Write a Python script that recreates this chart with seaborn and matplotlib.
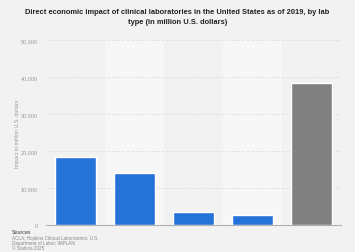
import matplotlib
matplotlib.use("Agg")
import matplotlib.pyplot as plt
import seaborn as sns
import pandas as pd

categories = ["Independent labs", "Hospital labs", "Physician office labs", "Other labs", "Total"]
values = [18400, 14100, 3500, 2800, 38500]
bar_colors = ["#2572d9", "#2572d9", "#2572d9", "#2572d9", "#808080"]
y_ticks = [0, 10000, 20000, 30000, 40000, 50000]
y_tick_labels = ["0", "10,000", "20,000", "30,000", "40,000", "50,000"]
title = "Direct economic impact of clinical laboratories in the United States as of 2019, by lab\ntype (in million U.S. dollars)"
y_label = "Impact in million U.S. dollars"
source_lines = ["ACLA; Hopkins Clinical Laboratories; U.S.", "Department of Labor; IMPLAN", "© Statista 2025"]

df = pd.DataFrame({"category": categories, "value": values})

sns.set_theme(style="white")
plt.rcParams['font.family'] = ['Liberation Sans', 'DejaVu Sans']

bg = "#f2f2f2"
fig = plt.figure(figsize=(3.55, 2.53), dpi=100, facecolor=bg)
ax = fig.add_axes([46/355, 1 - 226.3/253, 295/355, (226.3 - 41.3)/253])
ax.set_facecolor(bg)

for i in range(len(categories)):
    if i % 2 == 1:
        ax.axvspan(i - 0.5, i + 0.5, color="#f7f7f7", zorder=0, lw=0)

sns.barplot(data=df, x="category", y="value", hue="category", palette=bar_colors,
            legend=False, width=0.7, ax=ax, zorder=3, saturation=1)

ax.set_xlim(-0.5, len(categories) - 0.5)
ax.set_ylim(0, 50000)
ax.set_yticks(y_ticks)
ax.set_yticklabels(y_tick_labels, fontsize=3.9, color="#999999")
ax.tick_params(axis="y", length=0, pad=6)
ax.set_xticks([])
ax.set_xlabel("")
ax.set_ylabel(y_label, fontsize=3.9, color="#999999", labelpad=0.5)
ax.yaxis.grid(True, linestyle=(0, (4, 2)), color="#e0e0e0", lw=0.6, zorder=1)
ax.set_axisbelow(True)
for s in ["top", "right", "left"]:
    ax.spines[s].set_visible(False)
ax.spines["bottom"].set_color("#b0b0b0")
ax.spines["bottom"].set_linewidth(0.8)

fig.text(0.5, 1 - 8.5/253, title, ha="center", va="top", fontsize=5.4,
         fontweight="bold", color="#222222", linespacing=1.75)
fig.text(12/355, 1 - 233/253, "Sources", fontsize=3.8, color="#333333", va="center")
for k, line in enumerate(source_lines):
    fig.text(12/355, 1 - (238.5 + 5 * k)/253, line, fontsize=3.3, color="#888888", va="center")

fig.savefig("out.png", dpi=100, facecolor=bg)
